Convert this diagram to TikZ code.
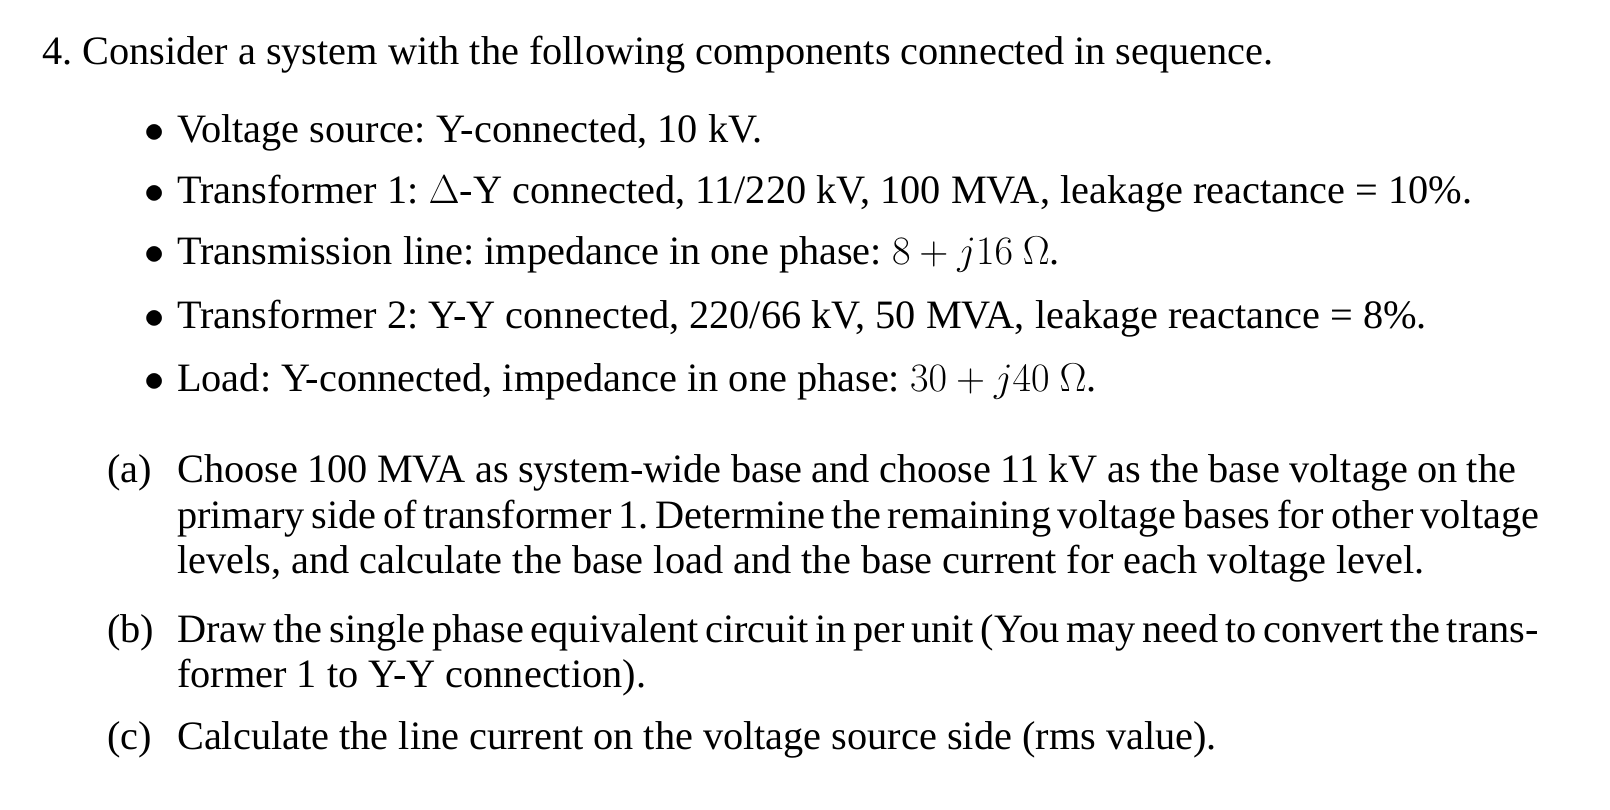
\RequirePackage{fix-cm}
\documentclass[tikz,border=0pt]{standalone}
\usepackage{fontspec}
\setmainfont{Liberation Serif}
\frenchspacing
\begin{document}
\begin{tikzpicture}[x=1pt,y=1pt,
  txt/.style={anchor=base west,inner sep=0pt,font=\fontsize{40.3}{48}\selectfont}]
\useasboundingbox (0,0) rectangle (1610,810);
\newcommand{\jl}[1]{\hbox to 1339pt{#1}}
\node[txt] (t0) at (42,745) {4.\ Consider a system with the following components connected in sequence.};
\foreach \y/\t [count=\i] in {667/{Voltage source: Y-connected, 10 kV.},
  606/{Transformer 1: $\Delta$-Y connected, 11/220 kV, 100 MVA, leakage reactance = 10\%.},
  545/{Transmission line: impedance in one phase: $8+j16\ \Omega$.},
  481/{Transformer 2: Y-Y connected, 220/66 kV, 50 MVA, leakage reactance = 8\%.},
  418/{Load: Y-connected, impedance in one phase: $30+j40\ \Omega$.}}{
  \node[txt] (b\i) at (144,\y) {$\bullet$};
  \node[txt] (l\i) at (177,\y) {\t};
}
\node[txt] (pa) at (107,327) {(a)};
\node[txt] (a1) at (177,327) {\jl{Choose 100 MVA as system-wide base and choose 11 kV as the base voltage on the}};
\node[txt] (a2) at (177,281) {\jl{primary side of transformer 1. Determine the remaining voltage bases for other voltage}};
\node[txt] (a3) at (177,236) {levels, and calculate the base load and the base current for each voltage level.};
\node[txt] (pb) at (107,167) {(b)};
\node[txt] (b1x) at (177,167) {\jl{Draw the single phase equivalent circuit in per unit (You may need to convert the trans-}};
\node[txt] (b2x) at (177,122) {former 1 to Y-Y connection).};
\node[txt] (pc) at (107,60) {(c)};
\node[txt] (c1) at (177,60) {Calculate the line current on the voltage source side (rms value).};
\end{tikzpicture}
\end{document}
